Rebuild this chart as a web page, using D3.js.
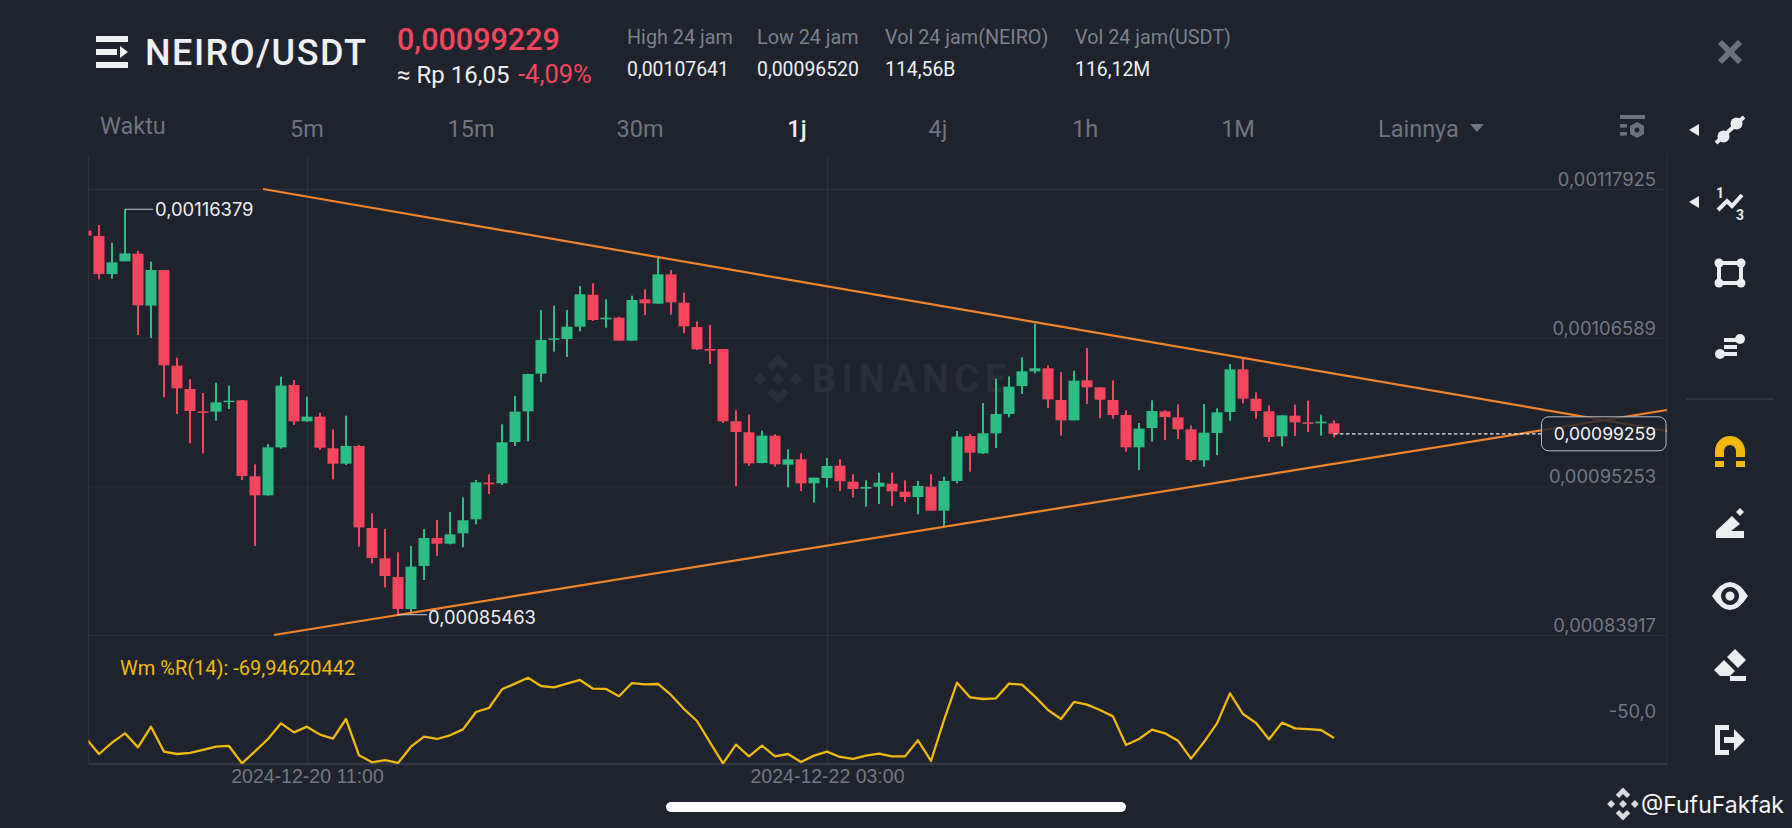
<!DOCTYPE html>
<html lang="id">
<head>
  <meta charset="utf-8">
  <title>NEIRO/USDT</title>
  <script src="https://d3js.org/d3.v7.min.js"></script>
  <style>
    html, body { margin: 0; background: #1e232d; overflow: hidden; }
    svg { display: block; font-family: Roboto, sans-serif; }
    .tick line { stroke: #2b303b; }
    .axis text { fill: #737985; }
  </style>
</head>
<body>
  <div id="chart"></div>
  <script>
    "use strict"

    // hourly candles, first one is cut by the left edge. prices are in units of 0.00000001
    const startHour = Date.UTC(2024, 11, 19, 18)
    const opens = [114748,114341,111444,112410,112994,109029,111749,104454,102675,100972,100947,101684,101811,96016,94567,98227,102980,100210,100565,98151,96982,98329,92076,89763,88340,85900,89179,91314,90882,91669,92737,95533,95482,98634,100972,103844,106437,106488,107428,109868,107987,108114,106361,109512,109182,111419,109258,107403,105725,105725,100210,99371,97033,99117,96905,97312,95482,95889,96829,95609,95075,95227,95456,94846,94440,95227,93397,95660,99091,97769,99294,100768,102903,104022,104251,101836,100285,103336,102802,101836,100692,98227,99701,100972,100514,99599,97235,99320,100921,104174,101938,100972,99065,100641,100133,100057,100057]
    const highs = [114748,115180,113833,116379,113223,112384,111749,105064,103412,102370,103158,102929,101836,96931,98481,103615,103361,102090,100870,99600,100642,98405,93195,92000,90221,90704,92000,92686,93296,94415,95736,96168,99981,102141,103844,108699,109029,108699,110529,110732,109512,108191,109792,110275,112715,111749,110021,107835,107555,105725,101048,100718,99498,99244,98075,97770,95914,97414,97312,96168,95710,96295,96295,95710,95660,96168,95990,99472,99243,101607,103463,103641,105089,107641,104479,103971,104073,105801,102802,103336,101048,100082,101810,101048,101505,99904,101531,101200,104581,105013,102420,101429,100667,101480,101785,100718,100285]
    const lows = [114367,111037,111088,112410,106793,106564,102040,100769,98532,97770,100260,101150,95736,90704,94542,98125,99930,100184,98024,95787,96880,90653,89382,87552,85463,85569,88111,89941,90831,90602,92356,94669,95355,98329,98685,103209,105522,105115,107072,107860,107352,106361,106361,108318,109182,108343,106920,105649,104581,100083,95279,96804,97007,96753,95177,94897,94008,95152,94897,94415,93702,93906,93753,94058,93118,93397,92177,95482,96371,97718,98176,100514,102293,103869,101226,99116,100285,101531,100438,100413,97896,96498,98659,98786,98862,97108,96752,97642,100260,101582,100413,98633,98303,99091,99396,99116,98989]
    const closes = [114367,111444,112334,113020,109055,111749,104480,102726,100998,100870,101658,101785,96041,94567,98227,102929,100210,100565,98202,96982,98329,92127,89789,88416,85900,89128,91314,90882,91593,92661,95558,95406,98608,100947,103819,106411,106538,107428,109894,107936,108114,106361,109461,109207,111419,109284,107453,105700,105598,100210,99396,97007,99117,96931,97312,95482,95914,96804,95635,95050,95202,95532,94872,94440,95278,93397,95660,99040,97820,99294,100768,102853,104022,104251,101887,100285,103310,102802,101861,100692,98227,99650,100997,100540,99599,97261,99345,100895,104174,101938,100997,99015,100667,100133,100031,100184,99259]

    // williams %R, same candles
    const wmR = [-70.2,-88.2,-75.2,-64.5,-80.6,-56.9,-85.5,-88.2,-87.0,-83.6,-79.8,-79.0,-98.9,-85.1,-71.0,-53.1,-63.4,-56.9,-66.0,-70.6,-48.1,-89.7,-97.7,-95.1,-98.5,-79.8,-68.3,-71.0,-66.8,-60.0,-40.1,-35.5,-14.1,-7.6,-0.8,-10.3,-11.8,-7.6,-3.4,-13.4,-13.7,-22.1,-6.9,-8.4,-8.0,-20.6,-36.7,-50.4,-74.8,-98.9,-77.5,-90.9,-78.6,-90.9,-88.2,-97.4,-90.1,-85.5,-91.6,-93.9,-90.1,-87.8,-90.9,-90.9,-72.5,-96.2,-49.3,-6.5,-23.3,-25.2,-24.4,-7.6,-8.8,-22.5,-37.8,-48.1,-28.6,-31.7,-37.8,-45.1,-77.9,-71.0,-60.3,-64.5,-72.9,-93.5,-74.5,-53.1,-18.7,-42.4,-52.7,-71.4,-52.3,-58.8,-59.6,-60.7,-69.95]
    const wmRLabel = "Wm %R(14): -69,94620442"

    const priceTicks = [117925, 106589, 95253, 83917]
    const timeTicks = [Date.UTC(2024, 11, 20, 11), Date.UTC(2024, 11, 22, 3)]
    const lastPrice = 99259
    const maxPrice = 116379, maxHourIdx = 3
    const minPrice = 85463, minHourIdx = 24

    // hand drawn triangle: [candle position, price]
    const trendUpper = [[13.615, 117925], [121.615, 99472]]
    const trendLower = [[14.46, 83917], [121.615, 101074]]

    const intervals = ["5m", "15m", "30m", "1j", "4j", "1h", "1M"]
    const statNames = ["High 24 jam", "Low 24 jam", "Vol 24 jam(NEIRO)", "Vol 24 jam(USDT)"]
    const statValues = ["0,00107641", "0,00096520", "114,56B", "116,12M"]

    const width = 1792, height = 828
    const plot = { left: 88.5, right: 1667, top: 155, bottom: 764 }
    const red = "#f6465d", green = "#2ebd85", orange = "#f5842c", yellow = "#f0b90b"
    const numFont = "Inter, sans-serif"
    const hourAt = i => new Date(startHour + i * 3600e3)
    const fmtPrice = v => (v / 1e8).toFixed(8).replace(".", ",")

    const svg = d3.select("#chart").append("svg").attr("width", width).attr("height", height)

    const x = d3.scaleUtc().domain([hourAt(0), hourAt(96)]).range([86, 1334])
    const y = d3.scaleLinear().domain([83917, 117925]).range([635, 189])
    const yR = d3.scaleLinear().domain([-100, 0]).range([764.3, 677])

    svg.append("clipPath").attr("id", "plotClip").append("rect")
      .attr("x", plot.left).attr("y", plot.top)
      .attr("width", plot.right - plot.left).attr("height", plot.bottom - plot.top)

    /* grid and axes */
    svg.append("g").attr("class", "axis").attr("transform", `translate(${plot.right},0)`)
      .call(d3.axisLeft(y).tickValues(priceTicks).tickFormat(fmtPrice).tickSize(plot.right - plot.left))
      .call(g => g.select(".domain").remove())
      .call(g => g.selectAll("text").attr("x", -11).attr("dy", -3.5).attr("font-size", 18.4).attr("font-family", numFont).attr("text-anchor", "end"))

    svg.append("g").attr("class", "axis").attr("transform", `translate(0,${plot.bottom})`)
      .call(d3.axisBottom(x).tickValues(timeTicks).tickSize(plot.top - plot.bottom)
        .tickFormat(d3.utcFormat("%Y-%m-%d %H:%M")))
      .call(g => g.select(".domain").remove())
      .call(g => g.selectAll("text").attr("y", 12).attr("dy", 7).attr("font-size", 19.5).attr("fill", "#7c828e"))

    svg.append("g").attr("class", "axis").attr("transform", `translate(${plot.right},0)`)
      .call(d3.axisLeft(yR).tickValues([-50]).tickFormat(v => v.toFixed(1).replace(".", ",")).tickSize(0))
      .call(g => g.select(".domain").remove())
      .call(g => g.selectAll("text").attr("x", -11).attr("dy", -3).attr("font-size", 18.4).attr("font-family", numFont))

    svg.append("g").attr("stroke", "#2b303b").selectAll("line").data([plot.left, plot.right]).join("line")
      .attr("x1", d => d).attr("x2", d => d).attr("y1", plot.top).attr("y2", plot.bottom)
    svg.append("line").attr("x1", plot.left).attr("x2", plot.right).attr("y1", plot.bottom).attr("y2", plot.bottom)
      .attr("stroke", "#313745").attr("stroke-width", 2.5)

    /* binance watermark */
    const diamond = ["M0,-25 L11,-14 L6,-9 L0,-15 L-6,-9 L-11,-14Z", "M0,25 L11,14 L6,9 L0,15 L-6,9 L-11,14Z",
      "M0,-6 L6,0 L0,6 L-6,0Z", "M-18,-6 L-12,0 L-18,6 L-24,0Z", "M18,-6 L12,0 L18,6 L24,0Z"]
    const wm = svg.append("g").attr("fill", "#292e39")
    wm.append("g").attr("transform", "translate(778,379)").selectAll("path")
      .data(diamond).join("path").attr("d", d => d)
    wm.append("text").attr("x", 812).attr("y", 392).attr("font-size", 38).attr("font-weight", 700)
      .attr("letter-spacing", 5.5).text("BINANCE")

    /* candles */
    const candles = d3.range(opens.length)
    const candleG = svg.append("g").attr("clip-path", "url(#plotClip)")
      .selectAll("g").data(candles).join("g")
      .attr("fill", i => closes[i] >= opens[i] ? green : red)
    candleG.append("rect")
      .attr("x", i => x(hourAt(i)) - 1).attr("width", 2)
      .attr("y", i => y(highs[i])).attr("height", i => y(lows[i]) - y(highs[i]))
    candleG.append("rect")
      .attr("x", i => x(hourAt(i)) - 5.5).attr("width", 11)
      .attr("y", i => y(Math.max(opens[i], closes[i])))
      .attr("height", i => Math.max(1.5, Math.abs(y(opens[i]) - y(closes[i]))))

    /* triangle lines */
    const trendPath = d3.line().x(d => x(hourAt(d[0]))).y(d => y(d[1]))
    svg.selectAll(".trend").data([trendUpper, trendLower]).join("path").attr("class", "trend")
      .attr("d", trendPath).attr("fill", "none").attr("stroke", orange).attr("stroke-width", 2.2)

    /* last price line and box */
    svg.append("line").attr("x1", x(hourAt(96))).attr("x2", 1541).attr("y1", y(lastPrice)).attr("y2", y(lastPrice))
      .attr("stroke", "#e8eaee").attr("stroke-width", 1.2).attr("stroke-dasharray", "3.5 2.5")
    svg.append("rect").attr("x", 1541.5).attr("y", y(lastPrice) - 17).attr("width", 124.5).attr("height", 34).attr("rx", 7)
      .attr("fill", "#1e232d").attr("fill-opacity", 0.82).attr("stroke", "#b9bdc6").attr("stroke-width", 1)
    svg.append("text").attr("x", 1656).attr("y", y(lastPrice) + 6.5).attr("text-anchor", "end")
      .attr("font-size", 17.5).attr("font-family", numFont).attr("fill", "#f4f5f7").text(fmtPrice(lastPrice))

    /* high / low notes */
    const noteColor = "#eceef1"
    svg.append("path").attr("fill", "none").attr("stroke", "#c6c9cf")
      .attr("d", `M${x(hourAt(maxHourIdx))},${y(maxPrice)}H153`)
    svg.append("text").attr("x", 155).attr("y", y(maxPrice) + 6.5).attr("font-size", 18.4)
      .attr("font-family", numFont).attr("fill", noteColor).text(fmtPrice(maxPrice))
    svg.append("path").attr("fill", "none").attr("stroke", "#c6c9cf")
      .attr("d", `M${x(hourAt(minHourIdx))},${y(minPrice)}H427`)
    svg.append("text").attr("x", 428).attr("y", y(minPrice) + 9.5).attr("font-size", 18.4)
      .attr("font-family", numFont).attr("fill", noteColor).text(fmtPrice(minPrice))

    /* indicator */
    svg.append("path").datum(wmR).attr("clip-path", "url(#plotClip)")
      .attr("fill", "none").attr("stroke", yellow).attr("stroke-width", 2.3).attr("stroke-linejoin", "round")
      .attr("d", d3.line().x((d, i) => x(hourAt(i))).y(d => yR(d)))
    svg.append("text").attr("x", 120).attr("y", 675).attr("font-size", 20).attr("fill", yellow).text(wmRLabel)

    /* header */
    const txt = (s, px, py, size, fill, weight, anchor) => svg.append("text").attr("x", px).attr("y", py)
      .attr("font-size", size).attr("fill", fill).attr("font-weight", weight || 400)
      .attr("text-anchor", anchor || "start").text(s)

    const menu = svg.append("g").attr("fill", "#eef0f3")
    menu.append("rect").attr("x", 96).attr("y", 36).attr("width", 32).attr("height", 6)
    menu.append("rect").attr("x", 96).attr("y", 49).attr("width", 21).attr("height", 6)
    menu.append("path").attr("d", "M120,46L128,52L120,58Z")
    menu.append("rect").attr("x", 96).attr("y", 62).attr("width", 32).attr("height", 6)

    txt("NEIRO/USDT", 145, 65, 36, "#eef0f3", 500).attr("letter-spacing", 1.5)
    txt("0,00099229", 397, 50, 30.5, red, 500)
    txt("≈ Rp 16,05", 397, 83, 24, "#eef0f3")
    txt("-4,09%", 518, 83, 25.5, red)

    const statX = [627, 757, 885, 1075]
    statNames.forEach((s, i) => {
      txt(s, statX[i], 44, 19.8, "#7c828e")
      txt(statValues[i], statX[i], 76, 19.4, "#eef0f3")
    })

    txt("Waktu", 100, 134, 23.5, "#6f7582")
    const intervalX = [307, 471, 640, 797, 938, 1085, 1238]
    intervals.forEach((s, i) => {
      txt(s, intervalX[i], 137, 23.5, s === "1j" ? "#eef0f3" : "#6f7582", s === "1j" ? 500 : 400, "middle")
    })
    txt("Lainnya", 1378, 137, 23.5, "#6f7582")
    svg.append("path").attr("d", "M1470,124H1484L1477,132Z").attr("fill", "#6f7582")

    /* toolbar icons */
    const ic = (cx, cy) => svg.append("g").attr("transform", `translate(${cx},${cy})`)
    const light = "#eaecef", grey = "#6b7280"

    ic(1730, 52).append("path").attr("d", "M-10,-10L10,10M10,-10L-10,10").attr("stroke", grey).attr("stroke-width", 6).attr("fill", "none")

    const setIcon = ic(1632, 127).attr("fill", grey)
    setIcon.append("rect").attr("x", -12).attr("y", -12).attr("width", 25).attr("height", 4)
    setIcon.append("rect").attr("x", -12).attr("y", -3).attr("width", 7).attr("height", 3.5)
    setIcon.append("rect").attr("x", -12).attr("y", 5).attr("width", 7).attr("height", 3.5)
    setIcon.append("path").attr("fill-rule", "evenodd")
      .attr("d", "M5,-5L12,-1V7L5,11L-2,7V-1ZM5,0.5a2.5,2.5 0 1,0 0.01,0Z")

    const arrows = [130, 202]
    arrows.forEach(cy => ic(1694, cy).append("path").attr("d", "M-5,0L5,-6V6Z").attr("fill", light))

    const t1 = ic(1730, 130)
    t1.append("path").attr("d", "M-14,13L14,-13").attr("stroke", light).attr("stroke-width", 4)
    t1.append("circle").attr("cx", -6.5).attr("cy", 6.5).attr("r", 6).attr("fill", light)
    t1.append("circle").attr("cx", 6.5).attr("cy", -6.5).attr("r", 6).attr("fill", light)

    const t2 = ic(1730, 202)
    t2.append("path").attr("d", "M-12,8L-3,-1L2,4L12,-7").attr("fill", "none").attr("stroke", light).attr("stroke-width", 4)
    t2.append("text").attr("x", -14).attr("y", -4).attr("font-size", 14).attr("font-weight", 700).attr("fill", light).text("1")
    t2.append("text").attr("x", 6).attr("y", 18).attr("font-size", 14).attr("font-weight", 700).attr("fill", light).text("3")

    const t3 = ic(1730, 273)
    t3.append("rect").attr("x", -11).attr("y", -10).attr("width", 22).attr("height", 20).attr("fill", "none").attr("stroke", light).attr("stroke-width", 4)
    t3.selectAll("circle").data([[-11, -10], [11, -10], [-11, 10], [11, 10]]).join("circle")
      .attr("cx", d => d[0]).attr("cy", d => d[1]).attr("r", 4.5).attr("fill", light)

    const t4 = ic(1730, 347).attr("fill", light)
    t4.append("rect").attr("x", -6).attr("y", -9).attr("width", 17).attr("height", 4)
    t4.append("rect").attr("x", -6).attr("y", -2).attr("width", 13).attr("height", 4)
    t4.append("rect").attr("x", -10).attr("y", 5).attr("width", 17).attr("height", 4)
    t4.append("circle").attr("cx", 10).attr("cy", -8).attr("r", 5)
    t4.append("circle").attr("cx", -10).attr("cy", 7).attr("r", 5)

    svg.append("line").attr("x1", 1686).attr("x2", 1773).attr("y1", 399).attr("y2", 399).attr("stroke", "#353b47").attr("stroke-width", 1.5)

    const magnet = ic(1730, 452).attr("fill", yellow)
    magnet.append("path").attr("d", "M-15,5V-1A15,15 0 0,1 15,-1V5H6V-1A6,6 0 0,0 -6,-1V5Z")
    magnet.append("rect").attr("x", -15).attr("y", 9).attr("width", 9).attr("height", 6)
    magnet.append("rect").attr("x", 6).attr("y", 9).attr("width", 9).attr("height", 6)

    const pen = ic(1730, 525).attr("fill", light)
    pen.append("path").attr("d", "M-14,6L2,-9L10,-1L1,6H14V13H-14Z")
    pen.append("path").attr("d", "M5,-12L9,-16L13,-12L9,-8Z").attr("transform", "translate(1,-1)")

    ic(1730, 596).append("path").attr("fill", light).attr("fill-rule", "evenodd")
      .attr("d", "M-18,0Q-9,-14 0,-14Q9,-14 18,0Q9,14 0,14Q-9,14 -18,0ZM0,-9a9,9 0 1,0 0.01,0ZM0,-4.5a4.5,4.5 0 1,1 -0.01,0Z")

    const eraser = ic(1730, 667).attr("fill", light)
    eraser.append("path").attr("d", "M-16,3L-6,-7L5,4L0,9H-10Z")
    eraser.append("path").attr("d", "M-3,-10L5,-18L16,-7L8,1Z")
    eraser.append("rect").attr("x", 0).attr("y", 9).attr("width", 16).attr("height", 5)

    const exitI = ic(1730, 740).attr("fill", light)
    exitI.append("path").attr("d", "M-15,-15H-1V-10H-10V10H-1V15H-15Z")
    exitI.append("path").attr("d", "M-6,-3H4V-11L15,0L4,11V3H-6Z")

    /* phone home bar + reshare watermark */
    svg.append("rect").attr("x", 666).attr("y", 802).attr("width", 460).attr("height", 10).attr("rx", 5).attr("fill", "#fff")
    svg.append("g").attr("transform", "translate(1623,804) scale(0.66)").attr("fill", "#d7d9dd")
      .selectAll("path").data(diamond).join("path").attr("d", d => d)
    svg.append("text").attr("x", 1641).attr("y", 813).attr("font-size", 23).attr("font-family", numFont).attr("fill", "#f4f5f7").text("@FufuFakfak")
  </script>
</body>
</html>
